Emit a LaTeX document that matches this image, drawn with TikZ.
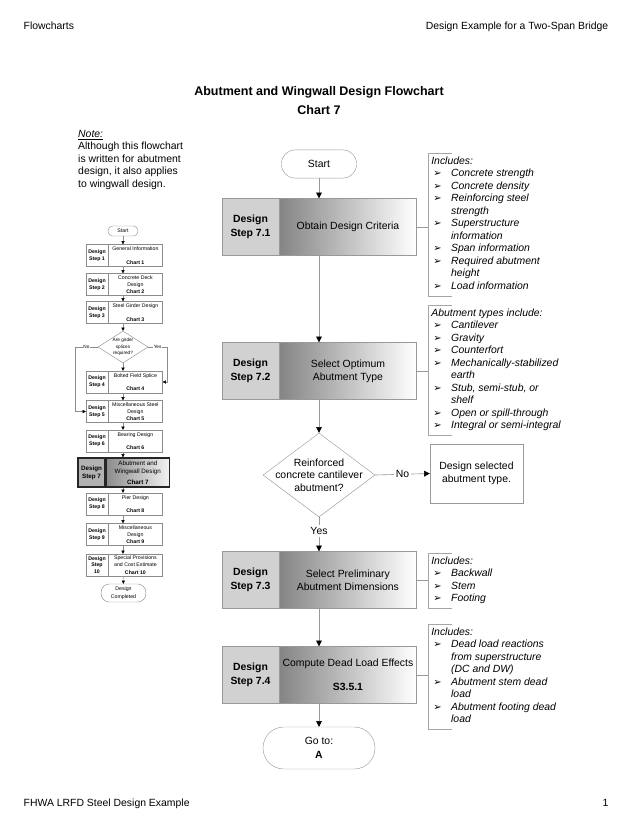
\documentclass[tikz,border=0pt]{standalone}
\usepackage{fontspec}
\setmainfont{Liberation Sans}
\newfontfamily\dingfont{DejaVu Sans}
\usetikzlibrary{positioning,shapes.geometric,arrows.meta}
\newcommand{\bul}{\makebox[19pt][l]{\hspace*{2pt}\dingfont\upshape\fontsize{9.5}{9}\selectfont\symbol{"27A2}}}

\begin{document}
\begin{tikzpicture}[x=0.9592pt, y=-0.9592pt, font=\fontsize{10}{12}\selectfont,
    line/.style={draw=black!40, line width=0.6pt},
    arr/.style={line, -{Triangle[color=black, width=5.5pt, length=5.5pt]}},
    marr/.style={draw=black!45, line width=0.4pt, -{Triangle[color=black, width=3pt, length=3pt]}},
    lbl/.style={draw=black!40, fill=black!18, minimum width=54.7pt, minimum height=54.7pt, inner sep=0pt, align=center, font=\fontsize{10}{13}\selectfont\bfseries},
    stepbox/.style={draw=black!40, left color=black!48, right color=white, minimum width=131.4pt, minimum height=54.7pt, inner sep=0pt, align=center, font=\fontsize{10}{12.5}\selectfont},
    term/.style={draw=black!40, align=center},
    note/.style={inner xsep=3pt, inner ysep=1.5pt, anchor=north west, font=\fontsize{10}{12}\selectfont\itshape},
    brk/.style={draw=black!35, line width=0.6pt},
    mlbl/.style={draw=black!45, minimum width=21.1pt, minimum height=21.1pt, inner sep=0pt, align=center, font=\fontsize{5}{6.5}\selectfont\bfseries},
    mbox/.style={draw=black!45, minimum width=51.8pt, minimum height=21.1pt, inner sep=0pt, align=center, font=\fontsize{5}{7}\selectfont},
    mtag/.style={fill=white, inner sep=0.5pt, font=\fontsize{4.5}{5}\selectfont},
  ]
  \useasboundingbox[fill=white] (0,0) rectangle (638,826);

  % Page header and footer
  \node[anchor=base west] (head) at (20,29) {Flowcharts};
  \node[anchor=base east] (headr) at (612,29) {Design Example for a Two-Span Bridge};
  \node[anchor=base west] (foot) at (20,806) {FHWA LRFD Steel Design Example};
  \node[anchor=base east] (footr) at (612,806) {1};

  % Title and note
  \node[align=center, font=\fontsize{12}{18}\selectfont\bfseries] (title) at (319,100.5) {Abutment and Wingwall Design Flowchart\\Chart 7};
  \node[anchor=north west, align=left, inner sep=0pt] (note) at (78,130) {\underline{\textit{Note:}}\\Although this flowchart\\is written for abutment\\design, it also applies\\to wingwall design.};

  % Main chart
  \node[term, minimum width=72pt, minimum height=27pt, rounded corners=13pt] (start) at (319,164) {Start};
  \node[lbl] (l71) at (250.5,227) {Design\\Step 7.1};
  \node[stepbox, right=0pt of l71] (s71) {Obtain Design Criteria};
  \node[lbl] (l72) at (250.5,371) {Design\\Step 7.2};
  \node[stepbox, right=0pt of l72] (s72) {Select Optimum\\Abutment Type};
  \node[diamond, draw=black!40, minimum width=107.4pt, minimum height=80.6pt, inner sep=0pt] (dec) at (319,475) {};
  \node[align=center] (dectext) at (dec) {Reinforced\\concrete cantilever\\abutment?};
  \node[draw=black!40, minimum width=89.2pt, minimum height=56.6pt, align=center, font=\fontsize{10}{13}\selectfont] (nobox) at (476.5,473.5) {Design selected\\abutment type.};
  \node[lbl] (l73) at (250.5,580) {Design\\Step 7.3};
  \node[stepbox, right=0pt of l73] (s73) {Select Preliminary\\Abutment Dimensions};
  \node[lbl] (l74) at (250.5,675) {Design\\Step 7.4};
  \node[stepbox, right=0pt of l74] (s74) {Compute Dead Load Effects\\[11pt]\textbf{S3.5.1}};
  \node[term, minimum width=107.4pt, minimum height=40.3pt, rounded corners=20pt, font=\fontsize{10}{13}\selectfont] (goto) at (319,748) {Go to:\\\textbf{A}};

  \draw[arr] (start) -- (start |- s71.north);
  \draw[arr] (s71.south -| start) -- (start |- s72.north);
  \draw[arr] (s72.south -| dec) -- (dec.north);
  \draw[arr] (dec.east) -- node[fill=white, inner sep=2pt] {No} (nobox.west);
  \draw[arr] (dec.south) -- node[fill=white, inner sep=2pt, pos=0.4] {Yes} (dec |- s73.north);
  \draw[arr] (s73.south -| dec) -- (dec |- s74.north);
  \draw[arr] (s74.south -| dec) -- (goto.north);

  % Side notes
  \node[note] (n71) at (428,153.5) {\begin{tabular}{@{}l@{}l@{}}
    \multicolumn{2}{@{}l@{}}{Includes:}\\
    \bul & Concrete strength\\
    \bul & Concrete density\\
    \bul & Reinforcing steel\\
         & strength\\
    \bul & Superstructure\\
         & information\\
    \bul & Span information\\
    \bul & Required abutment\\
         & height\\
    \bul & Load information
  \end{tabular}};
  \node[note] (n72) at (428,305.5) {\begin{tabular}{@{}l@{}l@{}}
    \multicolumn{2}{@{}l@{}}{Abutment types include:}\\
    \bul & Cantilever\\
    \bul & Gravity\\
    \bul & Counterfort\\
    \bul & Mechanically-stabilized\\
         & earth\\
    \bul & Stub, semi-stub, or\\
         & shelf\\
    \bul & Open or spill-through\\
    \bul & Integral or semi-integral
  \end{tabular}};
  \node[note] (n73) at (428,553.5) {\begin{tabular}{@{}l@{}l@{}}
    \multicolumn{2}{@{}l@{}}{Includes:}\\
    \bul & Backwall\\
    \bul & Stem\\
    \bul & Footing
  \end{tabular}};
  \node[note] (n74) at (428,624.5) {\begin{tabular}{@{}l@{}l@{}}
    \multicolumn{2}{@{}l@{}}{Includes:}\\
    \bul & Dead load reactions\\
         & from superstructure\\
         & (DC and DW)\\
    \bul & Abutment stem dead\\
         & load\\
    \bul & Abutment footing dead\\
         & load
  \end{tabular}};

  \draw[line] (s71.east) -- (s71.east -| n71.west);
  \draw[line] (s72.east) -- (s72.east -| n72.west);
  \draw[line] (s73.east) -- (s73.east -| n73.west);
  \draw[line] (s74.east) -- (s74.east -| n74.west);
  \draw[brk] ([xshift=23pt]n71.north west) -- (n71.north west) -- ([yshift=-1.5pt]n71.south west) -- ++(23pt,0);
  \draw[brk] ([xshift=23pt]n72.north west) -- (n72.north west) -- ([yshift=-1.5pt]n72.south west) -- ++(23pt,0);
  \draw[brk] ([xshift=23pt]n73.north west) -- (n73.north west) -- ([yshift=-1.5pt]n73.south west) -- ++(23pt,0);
  \draw[brk] ([xshift=23pt]n74.north west) -- (n74.north west) -- ([yshift=-1.5pt]n74.south west) -- ++(23pt,0);

  % Small overview chart
  \node[term, draw=black!45, minimum width=28.8pt, minimum height=9.6pt, rounded corners=4.5pt, inner sep=0pt, font=\fontsize{5}{6}\selectfont] (mstart) at (123,231) {Start};
  \node[mlbl] (ml1) at (97,255.5) {Design\\Step 1};
  \node[mbox, right=0pt of ml1] (m1) {General Information\\[6pt]\textbf{Chart 1}};
  \node[mlbl] (ml2) at (97,284.5) {Design\\Step 2};
  \node[mbox, right=0pt of ml2] (m2) {Concrete Deck\\Design\\\textbf{Chart 2}};
  \node[mlbl] (ml3) at (97,312.5) {Design\\Step 3};
  \node[mbox, right=0pt of ml3] (m3) {Steel Girder Design\\[6pt]\textbf{Chart 3}};
  \node[diamond, draw=black!45, minimum width=48pt, minimum height=30.7pt, inner sep=0pt] (mdec) at (123,347) {};
  \node[align=center, font=\fontsize{4.5}{6.5}\selectfont] (mdectext) at (mdec) {Are girder\\splices\\required?};
  \node[mlbl] (ml4) at (97,382) {Design\\Step 4};
  \node[mbox, right=0pt of ml4] (m4) {Bolted Field Splice\\[6pt]\textbf{Chart 4}};
  \node[mlbl] (ml5) at (97,411.5) {Design\\Step 5};
  \node[mbox, right=0pt of ml5] (m5) {Miscellaneous Steel\\Design\\\textbf{Chart 5}};
  \node[mlbl] (ml6) at (97,441) {Design\\Step 6};
  \node[mbox, right=0pt of ml6] (m6) {Bearing Design\\[6pt]\textbf{Chart 6}};
  \node[draw=black!85, line width=1.3pt, fill=black!30, minimum width=25.9pt, minimum height=27.8pt, inner sep=0pt, align=center, font=\fontsize{6}{7.5}\selectfont\bfseries] (ml7) at (91.5,472.5) {Design\\Step 7};
  \node[draw=black!85, line width=1.3pt, left color=black!45, right color=black!5, minimum width=60.4pt, minimum height=27.8pt, inner sep=0pt, align=center, font=\fontsize{6}{8}\selectfont, right=0pt of ml7] (m7) {Abutment and\\Wingwall Design\\[2pt]\textbf{Chart 7}};
  \node[mlbl] (ml8) at (97,504) {Design\\Step 8};
  \node[mbox, right=0pt of ml8] (m8) {Pier Design\\[6pt]\textbf{Chart 8}};
  \node[mlbl] (ml9) at (97,534.5) {Design\\Step 9};
  \node[mbox, right=0pt of ml9] (m9) {Miscellaneous\\Design\\\textbf{Chart 9}};
  \node[mlbl] (ml10) at (97,565) {Design\\Step\\10};
  \node[mbox, right=0pt of ml10] (m10) {Special Provisions\\and Cost Estimate\\\textbf{Chart 10}};
  \node[term, draw=black!45, minimum width=43pt, minimum height=17.3pt, rounded corners=8pt, inner sep=0pt, font=\fontsize{5}{7}\selectfont] (mend) at (123.5,593) {Design\\Completed};
  \coordinate (mno) at (75,347);
  \coordinate (myes) at (167,347);

  \draw[marr] (mstart) -- (mstart |- m1.north);
  \draw[marr] (m1.south -| mstart) -- (mstart |- m2.north);
  \draw[marr] (m2.south -| mstart) -- (mstart |- m3.north);
  \draw[marr] (m3.south -| mdec) -- (mdec.north);
  \draw[marr] (mdec.south) -- (mdec |- m4.north);
  \draw[marr] (mdec.west) -- node[mtag] {No} (mno) |- (ml5.west);
  \draw[marr] (mdec.east) -- node[mtag] {Yes} (myes) |- (m4.east);
  \draw[marr] (m4.south -| mstart) -- (mstart |- m5.north);
  \draw[marr] (m5.south -| mstart) -- (mstart |- m6.north);
  \draw[marr] (m6.south -| mstart) -- (mstart |- m7.north);
  \draw[marr] (m7.south -| mstart) -- (mstart |- m8.north);
  \draw[marr] (m8.south -| mstart) -- (mstart |- m9.north);
  \draw[marr] (m9.south -| mstart) -- (mstart |- m10.north);
  \draw[marr] (m10.south -| mstart) -- (mend.north);
\end{tikzpicture}
\end{document}
